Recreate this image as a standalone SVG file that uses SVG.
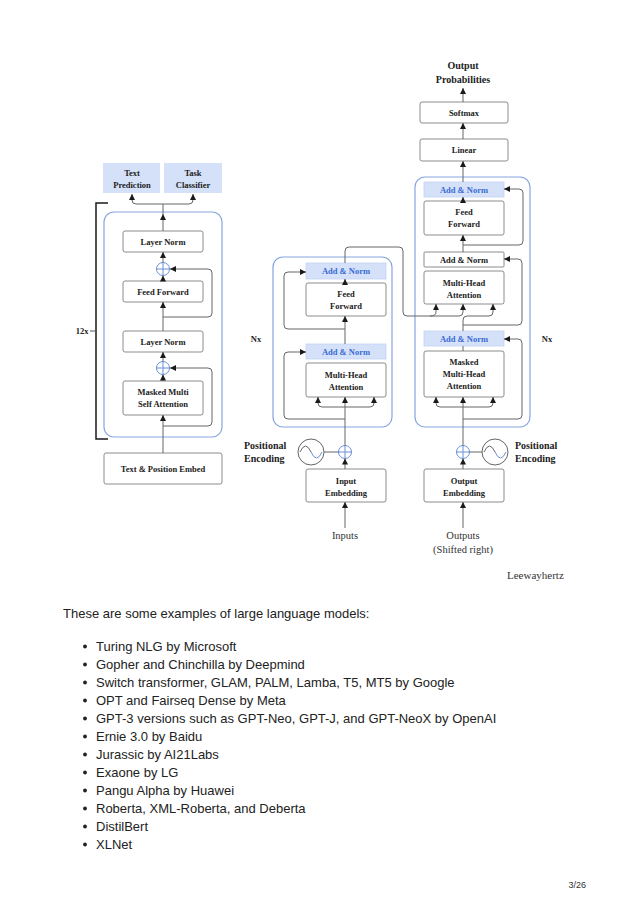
<svg xmlns="http://www.w3.org/2000/svg" width="638" height="903" viewBox="0 0 638 903">
<defs>
<marker id="ah" viewBox="0 0 6 6" refX="6" refY="3" markerWidth="6" markerHeight="6" markerUnits="userSpaceOnUse" orient="auto">
<path d="M0,0 L6,3 L0,6 z" fill="#1a1a1a"/>
</marker>
<style>
.box{fill:#fff;stroke:#8c8c8c;stroke-width:1}
.blue{fill:#d5e1f8;stroke:#c3d3f2;stroke-width:0.8}
.cont{fill:none;stroke:#86a6e0;stroke-width:1.2}
.ln{fill:none;stroke:#666;stroke-width:1}
.arr{fill:none;stroke:#666;stroke-width:1;marker-end:url(#ah)}
.t{font-family:"Liberation Serif","Times New Roman",serif;font-weight:bold;font-size:8.5px;fill:#222;text-anchor:middle}
.tb{font-family:"Liberation Serif","Times New Roman",serif;font-weight:bold;font-size:8.5px;fill:#3a6bd4;text-anchor:middle}
.big{font-family:"Liberation Serif","Times New Roman",serif;font-weight:bold;font-size:10px;fill:#222}
.reg{font-family:"Liberation Serif","Times New Roman",serif;font-size:10.5px;fill:#333;text-anchor:middle}
.plus{fill:#fff;stroke:#6b8fd6;stroke-width:1}
.pl{stroke:#6b8fd6;stroke-width:1}
.body{font-family:"Liberation Sans",Arial,sans-serif;font-size:13px;fill:#222}
</style>
</defs>
<rect width="638" height="903" fill="#fff"/>

<!-- LEFT: GPT-like stack -->
<g id="text-prediction"><rect x="103" y="163" width="57" height="30" fill="#d5e1f8"/><text class="t" x="132" y="176">Text</text><text class="t" x="132" y="188">Prediction</text></g>
<g id="task-classifier"><rect x="164" y="163" width="58" height="30" fill="#d5e1f8"/><text class="t" x="193" y="176">Task</text><text class="t" x="193" y="188">Classifier</text></g>
<g id="left-bracket"><path d="M108,203 L96,203 L96,439 L108,439" fill="none" stroke="#1a1a1a" stroke-width="1.5"/><line x1="90" y1="331" x2="96" y2="331" stroke="#555" stroke-width="1"/><text class="t" x="82" y="334">12x</text></g>
<g id="left-container"><rect class="cont" x="104" y="212" width="118" height="225" rx="10"/></g>
<g id="left-layernorm1"><rect class="box" x="123" y="231" width="80" height="21" rx="2"/><text class="t" x="163" y="245">Layer Norm</text></g>
<g id="left-add1"><circle class="plus" cx="163" cy="269" r="6.5"/><line class="pl" x1="156.5" y1="269" x2="169.5" y2="269"/><line class="pl" x1="163" y1="262.5" x2="163" y2="275.5"/></g>
<g id="left-ff"><rect class="box" x="123" y="281" width="80" height="21" rx="2"/><text class="t" x="163" y="295">Feed Forward</text></g>
<g id="left-layernorm2"><rect class="box" x="123" y="331" width="80" height="21" rx="2"/><text class="t" x="163" y="345">Layer Norm</text></g>
<g id="left-add2"><circle class="plus" cx="163" cy="368" r="6.5"/><line class="pl" x1="156.5" y1="368" x2="169.5" y2="368"/><line class="pl" x1="163" y1="361.5" x2="163" y2="374.5"/></g>
<g id="left-mmsa"><rect class="box" x="123" y="381" width="80" height="34" rx="2"/><text class="t" x="163" y="395">Masked Multi</text><text class="t" x="163" y="407">Self Attention</text></g>
<g id="left-embed"><rect class="box" x="104" y="453" width="118" height="31" rx="2"/><text class="t" x="163" y="472">Text &amp; Position Embed</text></g>

<!-- MIDDLE: encoder -->
<g id="enc-container"><rect class="cont" x="273" y="257" width="119" height="170" rx="10"/><text class="t" x="256" y="342">Nx</text></g>
<g id="enc-addnorm2"><rect class="blue" x="306" y="263" width="80" height="16"/><text class="tb" x="346" y="274">Add &amp; Norm</text></g>
<g id="enc-ff"><rect class="box" x="306" y="283" width="80" height="33" rx="2"/><text class="t" x="346" y="297">Feed</text><text class="t" x="346" y="309">Forward</text></g>
<g id="enc-addnorm1"><rect class="blue" x="306" y="344" width="80" height="15"/><text class="tb" x="346" y="355">Add &amp; Norm</text></g>
<g id="enc-mha"><rect class="box" x="306" y="363" width="80" height="34" rx="2"/><text class="t" x="346" y="378">Multi-Head</text><text class="t" x="346" y="390">Attention</text></g>
<g id="enc-add"><circle class="plus" cx="345" cy="452" r="6.5"/><line class="pl" x1="338.5" y1="452" x2="351.5" y2="452"/><line class="pl" x1="345" y1="445.5" x2="345" y2="458.5"/></g>
<g id="enc-posenc"><circle cx="311" cy="452" r="13" fill="#fff" stroke="#666" stroke-width="1"/><path d="M300,452 Q305.5,440 311,452" fill="none" stroke="#666" stroke-width="1"/><path d="M311,452 Q316.5,464 322,452" fill="none" stroke="#6b8fd6" stroke-width="1"/><text class="big" x="244" y="449">Positional</text><text class="big" x="244" y="462">Encoding</text></g>
<g id="enc-embed"><rect class="box" x="306" y="469" width="80" height="33" rx="2"/><text class="t" x="346" y="484">Input</text><text class="t" x="346" y="496">Embedding</text></g>
<g id="enc-inputs"><text class="reg" x="345" y="539">Inputs</text></g>

<!-- RIGHT: decoder -->
<g id="dec-outprob"><text class="big" x="463" y="69" text-anchor="middle">Output</text><text class="big" x="463" y="83" text-anchor="middle">Probabilities</text></g>
<g id="dec-softmax"><rect class="box" x="420" y="102" width="88" height="21" rx="2"/><text class="t" x="464" y="116">Softmax</text></g>
<g id="dec-linear"><rect class="box" x="420" y="139" width="88" height="22" rx="2"/><text class="t" x="464" y="153">Linear</text></g>
<g id="dec-container"><rect class="cont" x="415" y="177" width="115" height="250" rx="10"/><text class="t" x="547" y="342">Nx</text></g>
<g id="dec-addnorm3"><rect class="blue" x="424" y="182" width="80" height="15"/><text class="tb" x="464" y="193">Add &amp; Norm</text></g>
<g id="dec-ff"><rect class="box" x="424" y="201" width="80" height="34" rx="2"/><text class="t" x="464" y="215">Feed</text><text class="t" x="464" y="227">Forward</text></g>
<g id="dec-addnorm2"><rect class="box" x="424" y="252" width="80" height="15" rx="1"/><text class="t" x="464" y="263">Add &amp; Norm</text></g>
<g id="dec-mha"><rect class="box" x="424" y="271" width="80" height="33" rx="2"/><text class="t" x="464" y="286">Multi-Head</text><text class="t" x="464" y="298">Attention</text></g>
<g id="dec-addnorm1"><rect class="blue" x="424" y="331" width="80" height="15"/><text class="tb" x="464" y="342">Add &amp; Norm</text></g>
<g id="dec-mmha"><rect class="box" x="424" y="351" width="80" height="46" rx="2"/><text class="t" x="464" y="365">Masked</text><text class="t" x="464" y="377">Multi-Head</text><text class="t" x="464" y="389">Attention</text></g>
<g id="dec-add"><circle class="plus" cx="463" cy="452" r="6.5"/><line class="pl" x1="456.5" y1="452" x2="469.5" y2="452"/><line class="pl" x1="463" y1="445.5" x2="463" y2="458.5"/></g>
<g id="dec-posenc"><circle cx="495" cy="452" r="13" fill="#fff" stroke="#666" stroke-width="1"/><path d="M484,452 Q489.5,440 495,452" fill="none" stroke="#666" stroke-width="1"/><path d="M495,452 Q500.5,464 506,452" fill="none" stroke="#6b8fd6" stroke-width="1"/><text class="big" x="515" y="449">Positional</text><text class="big" x="515" y="462">Encoding</text></g>
<g id="dec-embed"><rect class="box" x="424" y="469" width="80" height="33" rx="2"/><text class="t" x="464" y="484">Output</text><text class="t" x="464" y="496">Embedding</text></g>
<g id="dec-outputs"><text class="reg" x="463" y="539">Outputs</text><text class="reg" x="463" y="553">(Shifted right)</text></g>
<g id="credit"><text font-family="Liberation Serif,'Times New Roman',serif" font-size="11" fill="#333" x="507" y="579">Leewayhertz</text></g>

<!-- connectors -->
<g id="connectors">
<!-- left -->
<path class="arr" d="M163,231 L163,214"/>
<path class="ln" d="M163,214 L163,204"/>
<path class="arr" d="M150,204 L136,204 Q132,204 132,200 L132,194"/>
<path class="arr" d="M176,204 L189,204 Q193,204 193,200 L193,194"/>
<path class="ln" d="M150,204 L176,204"/>
<path class="arr" d="M163,262.5 L163,252"/>
<path class="arr" d="M163,281 L163,275.5"/>
<path class="arr" d="M163,317 L208,317 Q212,317 212,313 L212,273 Q212,269 208,269 L170,269"/>
<path class="arr" d="M163,331 L163,302"/>
<path class="arr" d="M163,361.5 L163,352"/>
<path class="arr" d="M163,381 L163,374.5"/>
<path class="arr" d="M163,426 L208,426 Q212,426 212,422 L212,372 Q212,368 208,368 L170,368"/>
<path class="arr" d="M163,453 L163,415"/>
<!-- encoder -->
<path class="arr" d="M345,528 L345,502"/>
<path class="arr" d="M345,469 L345,458.5"/>
<path class="ln" d="M324,452 L338.5,452"/>
<path class="arr" d="M345,445.5 L345,397"/>
<path class="arr" d="M330,407 L322,407 Q318,407 318,403 L318,397"/>
<path class="arr" d="M360,407 L370,407 Q374,407 374,403 L374,397"/>
<path class="ln" d="M330,407 L360,407"/>
<path class="arr" d="M345,419 L288,419 Q284,419 284,415 L284,356 Q284,352 288,352 L306,352"/>
<path class="arr" d="M345,344 L345,316"/>
<path class="arr" d="M345,329 L288,329 Q284,329 284,325 L284,276 Q284,272 288,272 L306,272"/>
<path class="arr" d="M345,283 L345,279"/>
<path class="arr" d="M345,263 L345,251 Q345,247 349,247 L399,247 Q403,247 403,251 L403,312 Q403,316 407,316 L459,316 Q463,316 463,312 L463,304"/>
<path class="arr" d="M430,316 Q436,316 436,312 L436,304"/>
<!-- decoder -->
<path class="arr" d="M463,528 L463,502"/>
<path class="arr" d="M463,469 L463,458.5"/>
<path class="ln" d="M469.5,452 L482,452"/>
<path class="arr" d="M463,445.5 L463,397"/>
<path class="arr" d="M450,407 L440,407 Q436,407 436,403 L436,397"/>
<path class="arr" d="M476,407 L489,407 Q493,407 493,403 L493,397"/>
<path class="ln" d="M450,407 L476,407"/>
<path class="arr" d="M463,419 L518,419 Q522,419 522,415 L522,343 Q522,339 518,339 L504,339"/>
<path class="ln" d="M463,351 L463,346"/>
<path class="arr" d="M463,331 L463,320 Q463,316 467,316 L489,316 Q493,316 493,312 L493,304"/>
<path class="arr" d="M463,325 L518,325 Q522,325 522,321 L522,263 Q522,259 518,259 L504,259"/>
<path class="arr" d="M463,252 L463,235"/>
<path class="arr" d="M463,245 L519,245 Q523,245 523,241 L523,193 Q523,189 519,189 L504,189"/>
<path class="arr" d="M463,201 L463,197"/>
<path class="arr" d="M463,182 L463,161"/>
<path class="arr" d="M463,139 L463,123"/>
<path class="arr" d="M463,102 L463,88"/>
</g>

<!-- body text -->
<g id="body-text">
<text class="body" x="63" y="618">These are some examples of large language models:</text>
<g fill="#222">
<circle cx="85" cy="646.5" r="1.9"/><circle cx="85" cy="664.5" r="1.9"/><circle cx="85" cy="682.5" r="1.9"/><circle cx="85" cy="700.5" r="1.9"/><circle cx="85" cy="718.5" r="1.9"/><circle cx="85" cy="736.5" r="1.9"/><circle cx="85" cy="754.5" r="1.9"/><circle cx="85" cy="772.5" r="1.9"/><circle cx="85" cy="790.5" r="1.9"/><circle cx="85" cy="808.5" r="1.9"/><circle cx="85" cy="826.5" r="1.9"/><circle cx="85" cy="844.5" r="1.9"/>
</g>
<text class="body" x="96" y="650.5">Turing NLG by Microsoft</text>
<text class="body" x="96" y="668.5">Gopher and Chinchilla by Deepmind</text>
<text class="body" x="96" y="686.5">Switch transformer, GLAM, PALM, Lamba, T5, MT5 by Google</text>
<text class="body" x="96" y="704.5">OPT and Fairseq Dense by Meta</text>
<text class="body" x="96" y="722.5">GPT-3 versions such as GPT-Neo, GPT-J, and GPT-NeoX by OpenAI</text>
<text class="body" x="96" y="740.5">Ernie 3.0 by Baidu</text>
<text class="body" x="96" y="758.5">Jurassic by AI21Labs</text>
<text class="body" x="96" y="776.5">Exaone by LG</text>
<text class="body" x="96" y="794.5">Pangu Alpha by Huawei</text>
<text class="body" x="96" y="812.5">Roberta, XML-Roberta, and Deberta</text>
<text class="body" x="96" y="830.5">DistilBert</text>
<text class="body" x="96" y="848.5">XLNet</text>
<text x="586" y="888" font-family="Liberation Sans,Arial,sans-serif" font-size="9" fill="#333" text-anchor="end">3/26</text>
</g>
</svg>
